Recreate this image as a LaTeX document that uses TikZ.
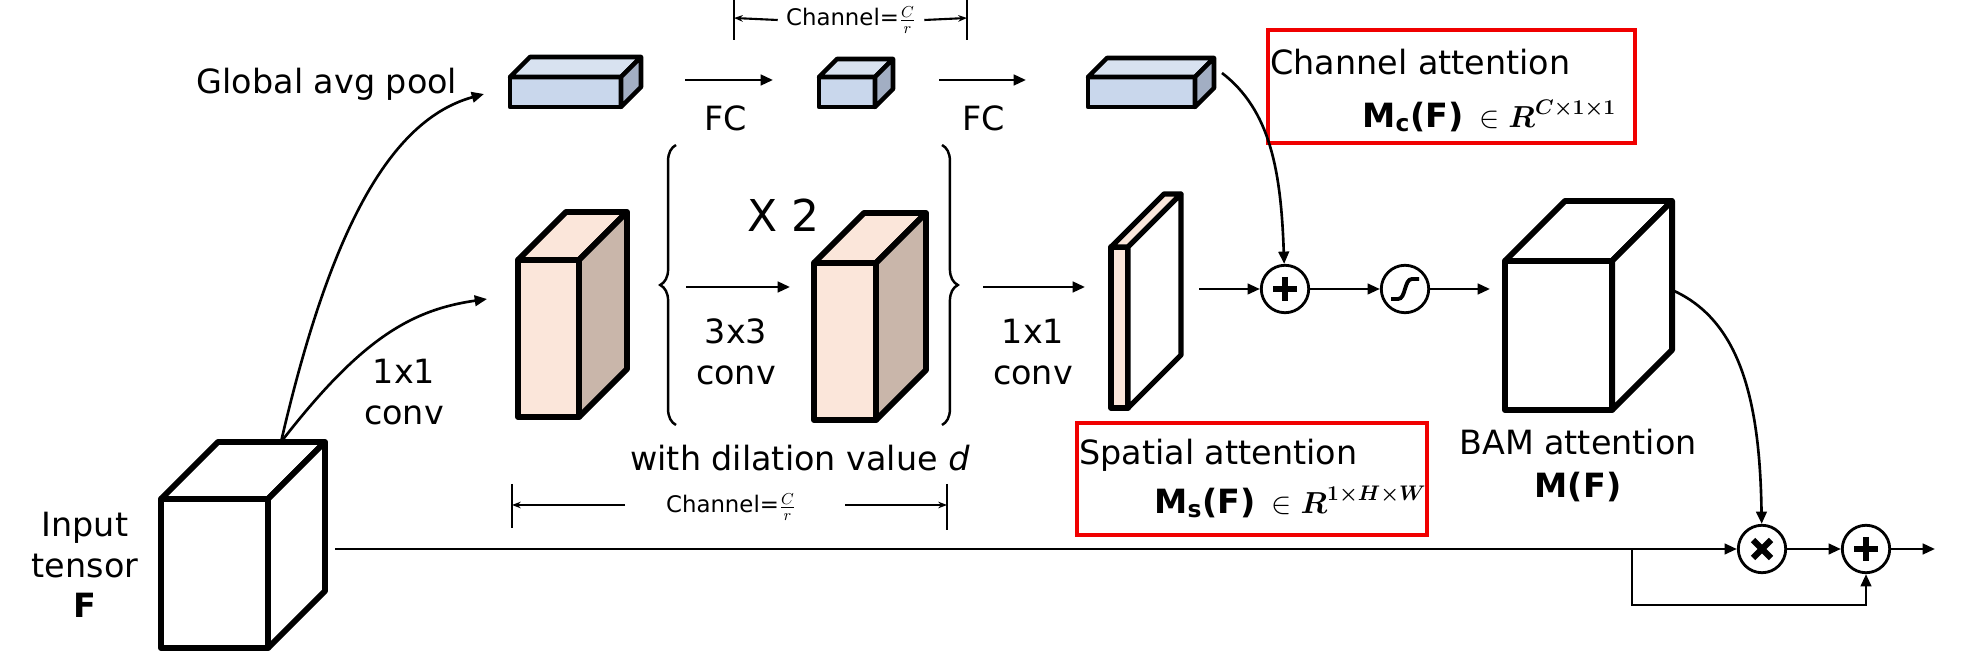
\documentclass[tikz,border=0pt]{standalone}
\usepackage{fontspec}
\usepackage{amsmath}
\setmainfont{DejaVu Sans}
\usetikzlibrary{arrows.meta,decorations.pathreplacing}

\definecolor{pinkfront}{HTML}{FBE6DA}
\definecolor{pinkside}{HTML}{C9B6AA}
\definecolor{pinktop}{HTML}{FBE6DA}
\definecolor{bluefront}{HTML}{C9D7EC}
\definecolor{blueside}{HTML}{A2AEC3}
\definecolor{bluetop}{HTML}{D8E2F0}
\definecolor{whitefront}{HTML}{FFFFFF}
\definecolor{whiteside}{HTML}{FFFFFF}
\definecolor{whitetop}{HTML}{FFFFFF}
\definecolor{slabfront}{HTML}{FBE6DA}
\definecolor{slabside}{HTML}{FFFFFF}
\definecolor{slabtop}{HTML}{FBE6DA}
\definecolor{boxred}{HTML}{F00000}

\tikzset{
  lbl/.style={font=\fontsize{19}{23}\selectfont, align=center, inner sep=0pt},
  small/.style={font=\fontsize{13}{15}\selectfont, inner sep=0pt},
  arr/.style={line width=1.5pt, -{Triangle[length=7pt,width=6pt]}},
  op/.style={shape=circle, draw=black, line width=1.6pt, minimum size=27pt, inner sep=0pt},
  attbox/.style={draw=boxred, line width=2pt},
}

% cube: name, front top-left, width, height, depth, palette, line width
\newcommand{\cube}[7]{%
  \coordinate (#1-nw) at (#2);
  \draw[line width=#7, fill=#6front, line join=round] (#1-nw) rectangle ++(#3,#4) coordinate (#1-se);
  \draw[line width=#7, fill=#6top, line join=round] (#1-nw) -- ++(#5,-#5) -- ++(#3,0) -- ++(-#5,#5) -- cycle;
  \draw[line width=#7, fill=#6side, line join=round] (#1-nw) ++(#3,0) -- ++(#5,-#5) -- ++(0,#4) -- ++(-#5,#5) -- cycle;
}

\begin{document}
\begin{tikzpicture}[x=0.02cm, y=-0.02cm]
  \useasboundingbox (0,0) rectangle (1972,668);

  % cubes
  \cube{input}{161,499}{107}{149}{57}{white}{3.4pt}
  \cube{convA}{518,260}{61}{157}{48}{pink}{3.4pt}
  \cube{convB}{814,263}{62}{157}{50}{pink}{3.4pt}
  \cube{slab}{1111,247}{17}{161}{53}{slab}{3pt}
  \cube{bam}{1505,261}{107}{149}{60}{white}{3.4pt}
  \cube{pool}{510,77}{111}{30}{20}{blue}{2.6pt}
  \cube{squeeze}{819,77}{56}{30}{18}{blue}{2.6pt}
  \cube{excite}{1088,77}{107}{30}{19}{blue}{2.6pt}

  % operators
  \node[op] (add) at (1285,289) {};
  \node[op] (sig) at (1405,289) {};
  \node[op] (mul) at (1762,549) {};
  \node[op] (res) at (1866,549) {};
  \draw[line width=3.5pt] (add.center) ++(-12,0) -- ++(24,0) (add.center) ++(0,-12) -- ++(0,24);
  \draw[line width=3.5pt] (res.center) ++(-12,0) -- ++(24,0) (res.center) ++(0,-12) -- ++(0,24);
  \draw[line width=3.5pt] (mul.center) ++(-9,-9) -- ++(18,18) (mul.center) ++(-9,9) -- ++(18,-18);
  \draw[line width=2.2pt] (sig.center) ++(-14,10) -- ++(7,0) .. controls +(8,0) and +(-8,0) .. ++(14,-20) -- ++(7,0);

  % labels
  \node[lbl] (poolLbl) at (327,84) {Global avg pool};
  \node[lbl] (fc1) at (726,118) {FC};
  \node[lbl] (fc2) at (984,118) {FC};
  \node[lbl] (inLbl) at (85,565) {Input\\tensor\\\textbf{F}};
  \node[lbl] (conv1) at (404,392) {1x1\\conv};
  \node[lbl] (conv3) at (736,352) {3x3\\conv};
  \node[lbl] (conv1b) at (1033,352) {1x1\\conv};
  \node[lbl, font=\fontsize{25}{30}\selectfont] (times) at (783,215) {X 2};
  \node[lbl] (dil) at (800,458) {with dilation value \textit{d}};
  \node[small] (chTop) at (851,20) {Channel=$\frac{C}{r}$};
  \node[small] (chBot) at (731,507) {Channel=$\frac{C}{r}$};
  \node[lbl] (bamLbl) at (1578,442) {BAM attention};
  \node[lbl] (bamEq) at (1578,487) {\textbf{M(F)}};

  % attention boxes
  \draw[attbox] (1268,30) rectangle (1635,143);
  \node[lbl, anchor=west] (chAtt) at (1270,62) {Channel attention};
  \node[lbl, anchor=west] (chEq) at (1362,116) {\textbf{M\textsubscript{c}(F)}\ \,{\fontsize{18}{21}\selectfont$\in \boldsymbol{R}^{\boldsymbol{C\times1\times1}}$}};
  \draw[attbox] (1077,423) rectangle (1427,535);
  \node[lbl, anchor=west] (spAtt) at (1079,455) {Spatial attention};
  \node[lbl, anchor=west] (spEq) at (1154,502) {\textbf{M\textsubscript{s}(F)}\ \,{\fontsize{18}{21}\selectfont$\in \boldsymbol{R}^{\boldsymbol{1\times H\times W}}$}};

  % braces and dimensions
  \draw[line width=1.4pt, decorate, decoration={brace, amplitude=9pt, aspect=0.5}] (676,425) -- (676,145);
  \draw[line width=1.4pt, decorate, decoration={brace, amplitude=9pt, aspect=0.5}] (942,145) -- (942,425);
  \coordinate (tl) at (734,18); \coordinate (tr) at (967,18);
  \coordinate (bl) at (512,505); \coordinate (br) at (947,505);
  \draw[line width=1.2pt] (734,0) -- (734,40) (967,0) -- (967,40);
  \draw[line width=1.2pt] (512,484) -- (512,528) (947,484) -- (947,530);
  \draw[line width=1.2pt, -{Stealth[length=5pt]}] (chTop.west) ++(-8,0) -- (tl);
  \draw[line width=1.2pt, -{Stealth[length=5pt]}] (chTop.east) ++(8,0) -- (tr);
  \draw[line width=1.2pt, -{Stealth[length=5pt]}] (625,505) -- (bl);
  \draw[line width=1.2pt, -{Stealth[length=5pt]}] (845,505) -- (br);

  % connectors
  \coordinate (split) at (281,442);
  \coordinate (poolIn) at (484,94);
  \coordinate (convIn) at (487,299);
  \draw[arr] (split) .. controls (330,230) and (390,120) .. (poolIn);
  \draw[arr] (split) .. controls (360,340) and (410,310) .. (convIn);
  \draw[arr] (685,80) -- (773,80);
  \draw[arr] (939,80) -- (1026,80);
  \draw[arr] (686,287) -- (790,287);
  \draw[arr] (983,287) -- (1085,287);
  \draw[arr] (1199,289) -- (add);
  \draw[arr] (add) -- (sig);
  \draw[arr] (sig) -- (1490,289);
  \coordinate (exOut) at (1222,73);
  \draw[arr] (exOut) .. controls (1270,110) and (1281,170) .. (add);
  \coordinate (bamOut) at (1672,290);
  \draw[arr] (bamOut) .. controls (1740,320) and (1760,400) .. (mul);
  \coordinate (branch) at (1632,549);
  \draw[arr] (335,549) -- (mul);
  \draw[arr] (branch) -- (1632,605) -| (res);
  \draw[arr] (mul) -- (res);
  \coordinate (outEnd) at (1935,549);
  \draw[arr] (res) -- (outEnd);
\end{tikzpicture}
\end{document}
